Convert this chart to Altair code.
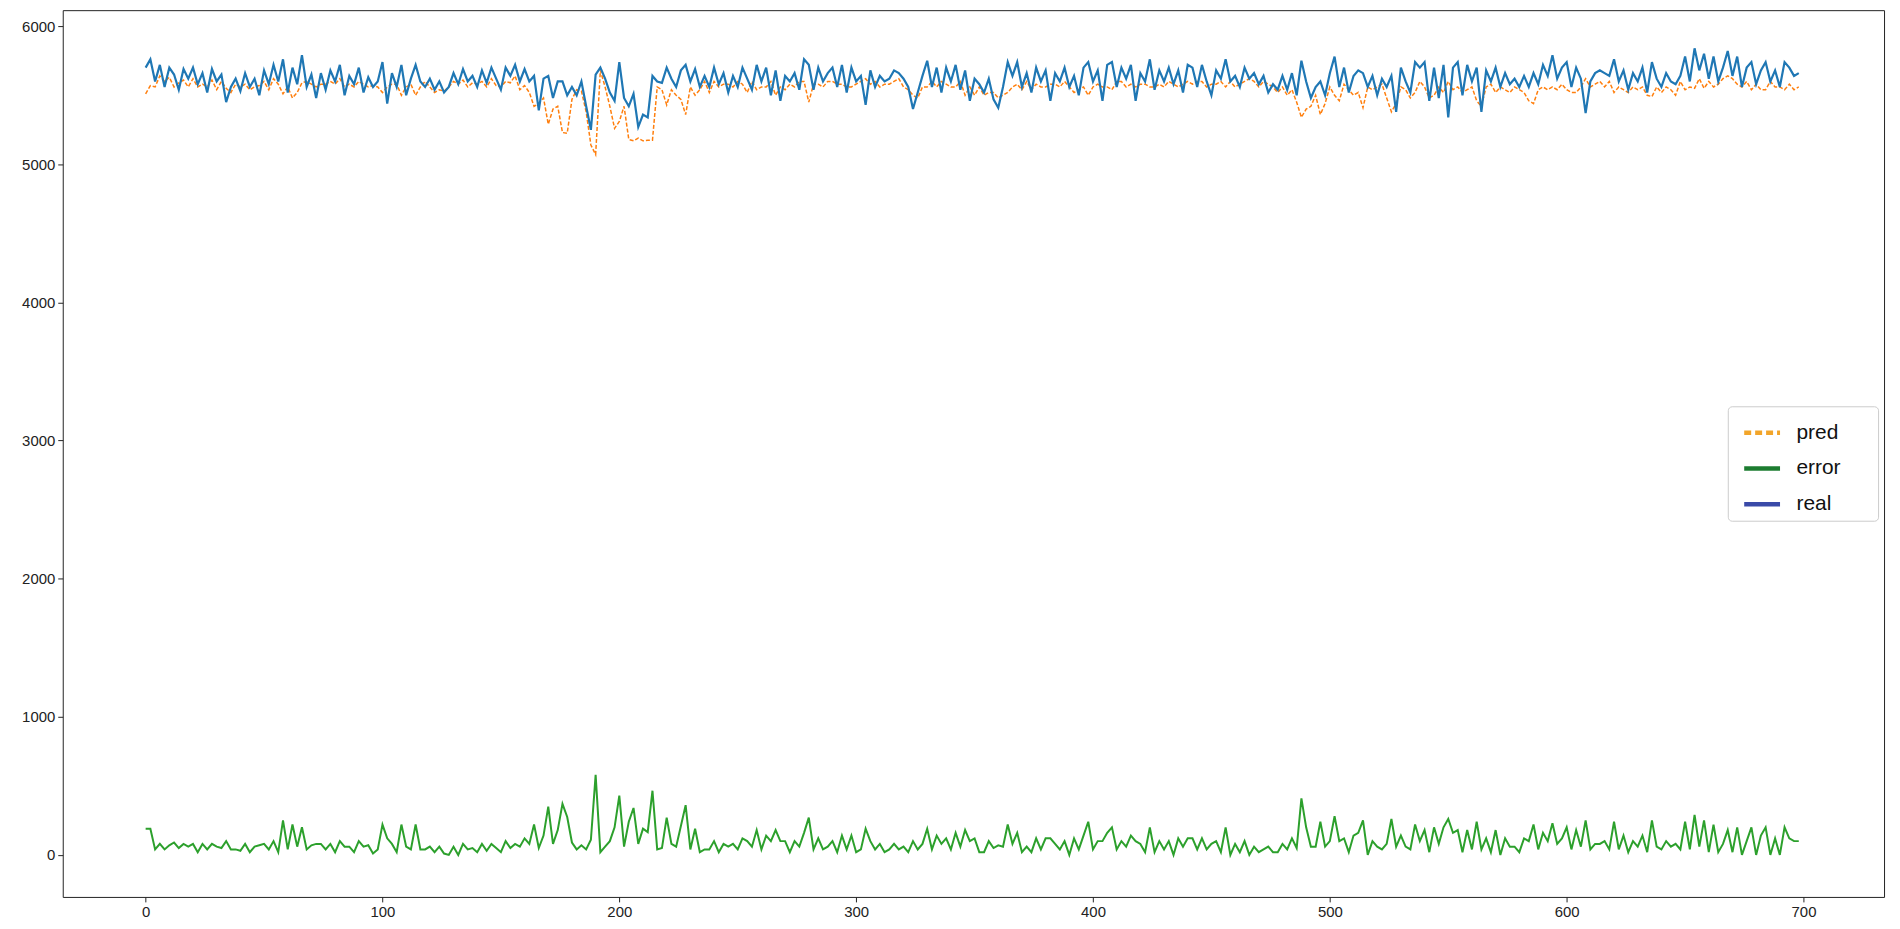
import altair as alt
import pandas as pd

# sample index (every second step of the 700-sample series)
idx = list(range(0, 700, 2))

real = [
    5700, 5760, 5600, 5720, 5560, 5700, 5650, 5540, 5690, 5620,
    5700, 5580, 5660, 5520, 5690, 5600, 5650, 5450, 5560, 5620,
    5530, 5660, 5560, 5620, 5500, 5680, 5580, 5720, 5600, 5760,
    5520, 5700, 5580, 5790, 5560, 5650, 5480, 5660, 5540, 5680,
    5600, 5720, 5500, 5640, 5580, 5700, 5520, 5630, 5560, 5600,
    5740, 5440, 5660, 5560, 5720, 5500, 5620, 5720, 5600, 5560,
    5620, 5540, 5600, 5520, 5560, 5660, 5580, 5690, 5600, 5640,
    5560, 5680, 5590, 5700, 5620, 5540, 5700, 5640, 5720, 5600,
    5690, 5600, 5640, 5390, 5620, 5640, 5480, 5600, 5600, 5500,
    5560, 5500, 5600, 5420, 5250, 5650, 5700, 5620, 5520, 5460,
    5740, 5480, 5420, 5510, 5270, 5360, 5340, 5640, 5600, 5590,
    5700, 5620, 5560, 5680, 5720, 5600, 5690, 5560, 5640, 5560,
    5700, 5580, 5660, 5520, 5640, 5560, 5700, 5620, 5540, 5720,
    5600, 5700, 5500, 5680, 5460, 5640, 5600, 5660, 5540, 5760,
    5720, 5540, 5700, 5600, 5660, 5700, 5560, 5720, 5520, 5700,
    5600, 5640, 5430, 5680, 5560, 5640, 5600, 5620, 5680, 5660,
    5620, 5560, 5400, 5520, 5640, 5750, 5560, 5700, 5520, 5700,
    5600, 5720, 5540, 5680, 5460, 5620, 5580, 5520, 5620, 5470,
    5410, 5560, 5740, 5640, 5740, 5560, 5660, 5520, 5700, 5600,
    5680, 5460, 5660, 5600, 5700, 5560, 5640, 5500, 5700, 5740,
    5600, 5680, 5460, 5720, 5740, 5560, 5700, 5620, 5720, 5460,
    5660, 5600, 5760, 5540, 5680, 5600, 5700, 5580, 5680, 5520,
    5720, 5700, 5560, 5720, 5600, 5500, 5680, 5620, 5760, 5600,
    5640, 5560, 5700, 5620, 5660, 5580, 5640, 5520, 5580, 5540,
    5640, 5540, 5660, 5500, 5750, 5600, 5480, 5560, 5600, 5500,
    5660, 5780, 5560, 5700, 5520, 5640, 5680, 5660, 5560, 5640,
    5500, 5620, 5560, 5640, 5380, 5700, 5600, 5520, 5740, 5700,
    5740, 5460, 5700, 5480, 5720, 5340, 5700, 5740, 5500, 5720,
    5600, 5700, 5380, 5680, 5600, 5700, 5560, 5660, 5580, 5620,
    5560, 5640, 5560, 5660, 5580, 5720, 5640, 5790, 5620, 5700,
    5740, 5560, 5700, 5620, 5370, 5600, 5660, 5680, 5660, 5640,
    5760, 5600, 5680, 5540, 5660, 5600, 5700, 5520, 5740, 5620,
    5560, 5660, 5600, 5580, 5640, 5780, 5600, 5840, 5680, 5800,
    5620, 5780, 5600, 5700, 5820, 5640, 5780, 5560, 5700, 5740,
    5580, 5680, 5740, 5600, 5680, 5560, 5740, 5700, 5640, 5660,
]

pred = [
    5510, 5570, 5560, 5640, 5600, 5630, 5560, 5590, 5610, 5560,
    5620, 5560, 5580, 5560, 5610, 5540, 5600, 5550, 5520, 5580,
    5560, 5580, 5540, 5560, 5570, 5600, 5540, 5620, 5580, 5510,
    5560, 5480, 5520, 5590, 5600, 5580, 5560, 5580, 5580, 5600,
    5580, 5620, 5560, 5580, 5560, 5600, 5580, 5560, 5570, 5560,
    5520, 5560, 5580, 5580, 5500, 5560, 5580, 5500, 5560, 5600,
    5560, 5520, 5540, 5530, 5560, 5600, 5580, 5610, 5560, 5590,
    5580, 5600, 5560, 5620, 5570, 5560, 5600, 5590, 5640, 5540,
    5570, 5520, 5420, 5440, 5480, 5290, 5400, 5420, 5230, 5225,
    5470, 5540, 5530, 5380, 5140, 5070, 5680, 5560, 5420, 5260,
    5310, 5420, 5180, 5170, 5190, 5170, 5175, 5175, 5560, 5540,
    5430, 5540, 5500, 5470, 5360, 5560, 5500, 5540, 5600, 5520,
    5600, 5560, 5580, 5580, 5560, 5600, 5580, 5520, 5600, 5540,
    5560, 5560, 5600, 5500, 5560, 5540, 5580, 5560, 5600, 5600,
    5450, 5580, 5580, 5560, 5600, 5600, 5580, 5580, 5560, 5560,
    5580, 5600, 5620, 5580, 5600, 5560, 5580, 5580, 5600, 5620,
    5560, 5540, 5500, 5480, 5560, 5560, 5600, 5560, 5600, 5580,
    5560, 5560, 5600, 5500, 5560, 5500, 5560, 5500, 5520, 5520,
    5480, 5500, 5520, 5560, 5580, 5540, 5600, 5540, 5580, 5560,
    5560, 5580, 5580, 5560, 5600, 5560, 5520, 5540, 5560, 5500,
    5560, 5580, 5560, 5560, 5540, 5600, 5600, 5560, 5580, 5560,
    5580, 5580, 5560, 5560, 5580, 5560, 5600, 5580, 5560, 5580,
    5600, 5580, 5600, 5600, 5560, 5580, 5580, 5600, 5560, 5600,
    5560, 5580, 5600, 5620, 5600, 5560, 5600, 5580, 5560, 5520,
    5560, 5500, 5540, 5450, 5340, 5400, 5420, 5500, 5360, 5440,
    5560, 5500, 5460, 5580, 5540, 5500, 5520, 5410, 5560, 5540,
    5560, 5580, 5480, 5380, 5440, 5560, 5540, 5480, 5520, 5600,
    5560, 5480, 5500, 5560, 5520, 5600, 5540, 5560, 5520, 5540,
    5560, 5460, 5420, 5560, 5580, 5520, 5560, 5540, 5520, 5560,
    5540, 5520, 5460, 5440, 5540, 5560, 5540, 5560, 5540, 5580,
    5540, 5520, 5520, 5560, 5620, 5560, 5580, 5600, 5560, 5600,
    5520, 5560, 5540, 5520, 5560, 5540, 5560, 5500, 5490, 5560,
    5520, 5560, 5540, 5500, 5600, 5540, 5560, 5550, 5620, 5550,
    5600, 5560, 5580, 5620, 5640, 5620, 5580, 5560, 5600, 5540,
    5580, 5540, 5540, 5600, 5560, 5560, 5540, 5580, 5540, 5560,
]

error = [
    190, 190, 40, 80, 40, 70, 90, 50, 80, 60,
    80, 20, 80, 40, 80, 60, 50, 100, 40, 40,
    30, 80, 20, 60, 70, 80, 40, 100, 20, 250,
    40, 220, 60, 200, 40, 70, 80, 80, 40, 80,
    20, 100, 60, 60, 20, 100, 60, 70, 10, 40,
    220, 120, 80, 20, 220, 60, 40, 220, 40, 40,
    60, 20, 60, 10, 0, 60, 0, 80, 40, 50,
    20, 80, 30, 80, 50, 20, 100, 50, 80, 60,
    120, 80, 220, 50, 140, 350, 80, 180, 370, 275,
    90, 40, 70, 40, 110, 580, 20, 60, 100, 200,
    430, 60, 240, 340, 80, 190, 165, 465, 40, 50,
    270, 80, 60, 210, 360, 40, 190, 20, 40, 40,
    100, 20, 80, 60, 80, 40, 120, 100, 60, 180,
    40, 140, 100, 180, 100, 100, 20, 100, 60, 160,
    270, 40, 120, 40, 60, 100, 20, 140, 40, 140,
    20, 40, 190, 100, 40, 80, 20, 40, 80, 40,
    60, 20, 100, 40, 80, 190, 40, 140, 80, 120,
    40, 160, 60, 180, 100, 120, 20, 20, 100, 50,
    70, 60, 220, 80, 160, 20, 60, 20, 120, 40,
    120, 120, 80, 40, 100, 0, 120, 40, 140, 240,
    40, 100, 100, 160, 200, 40, 100, 60, 140, 100,
    80, 20, 200, 20, 100, 40, 100, 0, 120, 60,
    120, 120, 40, 120, 40, 80, 100, 20, 200, 0,
    80, 20, 100, 0, 60, 20, 40, 60, 20, 20,
    80, 40, 120, 50, 410, 200, 60, 60, 240, 60,
    100, 280, 100, 120, 20, 140, 160, 250, 0, 100,
    60, 40, 80, 260, 60, 140, 60, 40, 220, 100,
    180, 20, 200, 80, 200, 260, 160, 180, 20, 180,
    40, 240, 40, 120, 20, 180, 0, 120, 60, 60,
    20, 120, 100, 220, 40, 160, 100, 230, 80, 120,
    200, 40, 180, 60, 250, 40, 80, 80, 100, 40,
    240, 40, 140, 20, 100, 60, 140, 20, 250, 60,
    40, 100, 60, 80, 40, 240, 40, 290, 60, 250,
    20, 220, 20, 80, 180, 20, 200, 0, 100, 200,
    0, 140, 200, 0, 120, 0, 200, 120, 100, 100,
]

series_names = ["pred", "error", "real"]
legend_colors = ["#f2a52a", "#1c7c30", "#3a4aa8"]
x_ticks = [0, 100, 200, 300, 400, 500, 600, 700]
y_ticks = [0, 1000, 2000, 3000, 4000, 5000, 6000]

df = pd.DataFrame({"idx": idx, "real": real, "pred": pred, "error": error})
leg_df = pd.DataFrame({"series": series_names, "idx": [0, 0, 0], "v": [0, 0, 0]})

xs = alt.Scale(domain=[-35, 734], nice=False, zero=False)
ys = alt.Scale(domain=[-304, 6116], nice=False, zero=False)
xax = alt.Axis(values=x_ticks, title=None, grid=False, format="d")
yax = alt.Axis(values=y_ticks, title=None, grid=False, format="d")

base = alt.Chart(df)

pred_l = base.mark_line(color="#ff7f0e", strokeWidth=1.5, strokeDash=[4, 2]).encode(
    x=alt.X("idx:Q", scale=xs, axis=xax),
    y=alt.Y("pred:Q", scale=ys, axis=yax),
)
err_l = base.mark_line(color="#2ca02c", strokeWidth=2).encode(
    x=alt.X("idx:Q", scale=xs, axis=xax),
    y=alt.Y("error:Q", scale=ys, axis=yax),
)
real_l = base.mark_line(color="#1f77b4", strokeWidth=2.2).encode(
    x=alt.X("idx:Q", scale=xs, axis=xax),
    y=alt.Y("real:Q", scale=ys, axis=yax),
)

leg_props = dict(
    title="\u00a0",
    titleOrient="right",
    titlePadding=32,
    titleFontSize=10,
    orient="none",
    legendX=1673,
    legendY=398,
    symbolType="stroke",
    symbolStrokeWidth=4.5,
    symbolSize=1296,
    symbolOpacity=1,
    symbolOffset=8,
    labelFontSize=21,
    labelFont="Liberation Sans",
    labelColor="#111111",
    labelOffset=14,
    rowPadding=5,
    padding=6,
    fillColor="white",
    strokeColor="#cccccc",
    cornerRadius=4,
)

leg_l = alt.Chart(leg_df).mark_line(opacity=0).encode(
    x=alt.X("idx:Q", scale=xs, axis=xax),
    y=alt.Y("v:Q", scale=ys, axis=yax),
    color=alt.Color(
        "series:N",
        scale=alt.Scale(domain=series_names, range=legend_colors),
        legend=alt.Legend(**leg_props),
    ),
    strokeDash=alt.StrokeDash(
        "series:N",
        scale=alt.Scale(domain=series_names, range=[[7, 4], [1, 0], [1, 0]]),
        legend=alt.Legend(**leg_props),
    ),
)

chart = (
    alt.layer(pred_l, err_l, real_l, leg_l)
    .properties(
        width=1830,
        height=891,
        autosize="none",
        padding={"left": 55, "top": 0, "right": 8, "bottom": 20},
        background="white",
    )
    .configure_view(stroke="#222222", strokeWidth=1)
    .configure_axis(
        domain=False,
        labelFont="Liberation Sans",
        labelFontSize=15,
        labelColor="#222222",
        tickColor="#222222",
        tickSize=5,
        labelPadding=3,
    )
)

chart.save("out.html", embed_options={"renderer": "svg", "actions": False})
